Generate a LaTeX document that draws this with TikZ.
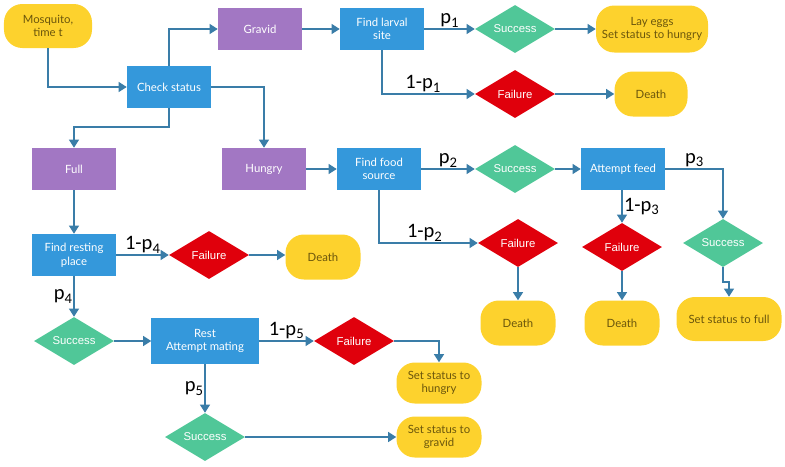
\documentclass[tikz,border=0pt]{standalone}
\usepackage{fontspec}
\setmainfont{Lato}
\newfontfamily\diafont{Liberation Sans}
\newfontfamily\labfont{Carlito}
\usepackage{tikz}
\usetikzlibrary{arrows.meta,shapes.geometric,positioning}

\definecolor{boxblue}{HTML}{3498DB}
\definecolor{statepurple}{HTML}{A277C3}
\definecolor{termyellow}{HTML}{FDD22D}
\definecolor{termtext}{HTML}{6B560C}
\definecolor{okgreen}{HTML}{50C798}
\definecolor{badred}{HTML}{E0000C}
\definecolor{linkblue}{HTML}{3A7DA8}

\newcommand{\psub}[1]{p\raisebox{-0.35ex}{\fontsize{12.5}{13}\selectfont#1}}

\begin{document}
\begin{tikzpicture}[
    x=0.03cm, y=-0.03cm,
    >={Triangle[length=7pt,width=8.5pt]},
    flow/.style={->, draw=linkblue, line width=1.4pt},
    stepbox/.style={
        rectangle,
        fill=boxblue,
        text=white,
        minimum width=2.52cm,
        minimum height=1.26cm,
        align=center,
        inner sep=2pt,
        font=\fontsize{9.7}{11.7}\selectfont
    },
    state/.style={stepbox, fill=statepurple},
    terminal/.style={
        rectangle,
        rounded corners=0.55cm,
        fill=termyellow,
        text=termtext,
        minimum width=2.25cm,
        minimum height=1.35cm,
        align=center,
        inner sep=2pt,
        font=\fontsize{9.7}{11.7}\selectfont
    },
    success/.style={
        diamond,
        aspect=1.67,
        fill=okgreen,
        text=white,
        minimum width=2.4cm,
        minimum height=1.44cm,
        inner sep=0pt,
        font=\diafont\fontsize{9.7}{11}\selectfont
    },
    failure/.style={success, fill=badred},
    prob/.style={font=\labfont\fontsize{17.5}{19}\selectfont, inner sep=1pt}
]
\useasboundingbox (0,0) rectangle (785,466);

% ROW 1
\node[terminal, minimum width=2.64cm, minimum height=1.32cm] (mosq) at (48,26) {Mosquito,\\time t};
\node[stepbox] (check) at (169,87) {Check status};
\node[state] (gravid) at (260,29) {Gravid};
\node[stepbox] (larval) at (382,29) {Find larval\\site};
\node[success] (succ1) at (515,29) {Success};
\node[terminal, minimum width=3.36cm, minimum height=1.41cm] (eggs) at (652,29) {Lay eggs\\Set status to hungry};
\node[failure] (fail1) at (515,94) {Failure};
\node[terminal, minimum width=2.19cm] (death1) at (651,94) {Death};

% ROW 2
\node[state] (full) at (74,169) {Full};
\node[state] (hungry) at (264,169) {Hungry};
\node[stepbox] (food) at (379,169) {Find food\\source};
\node[success] (succ2) at (515,169) {Success};
\node[stepbox] (feed) at (623,169) {Attempt feed};

% ROW 3
\node[failure] (fail2) at (518,243) {Failure};
\node[failure] (fail3) at (622,247) {Failure};
\node[success] (succ3) at (723,243) {Success};
\node[terminal] (death2) at (518,323) {Death};
\node[terminal] (death3) at (622,323) {Death};
\node[terminal, minimum width=3.15cm, minimum height=1.32cm] (setfull) at (729,319) {Set status to full};

% ROW 4
\node[stepbox] (rest) at (74,255) {Find resting\\place};
\node[failure] (fail4) at (209,255) {Failure};
\node[terminal] (death4) at (323,257) {Death};

% ROW 5
\node[success] (succ4) at (74,341) {Success};
\node[stepbox, minimum width=3.21cm, minimum height=1.38cm] (mating) at (205,341) {Rest\\Attempt mating};
\node[failure] (fail5) at (354,341) {Failure};
\node[terminal, minimum width=2.55cm, minimum height=1.23cm] (sethungry) at (439,383) {Set status to\\hungry};

% ROW 6
\node[success] (succ5) at (205,437) {Success};
\node[terminal, minimum width=2.55cm, minimum height=1.23cm] (setgravid) at (439,437) {Set status to\\gravid};

% --- ARROWS WITH PROBABILITIES ---
% From mosquito and check status
\draw[flow] (mosq.south) |- (check.west);
\draw[flow] (check.north) |- (gravid.west);
\draw[flow] (check.south) -- ++(0,19) -| (full.north);
\draw[flow] (check.east) -| (hungry.north);

% Gravid branch
\draw[flow] (gravid) -- (larval);
\draw[flow] (larval.east) -- node[prob, above] (lp1) {\psub{1}} (succ1.west);
\draw[flow] (larval.south) |- node[prob, above, pos=0.72] (lq1) {1-\psub{1}} (fail1.west);
\draw[flow] (succ1) -- (eggs);
\draw[flow] (fail1) -- (death1);

% Hungry branch
\draw[flow] (hungry) -- (food);
\draw[flow] (food.east) -- node[prob, above] (lp2) {\psub{2}} (succ2.west);
\draw[flow] (food.south) |- node[prob, above, pos=0.73] (lq2) {1-\psub{2}} (fail2.west);
\draw[flow] (succ2) -- (feed);
\draw[flow] (fail2) -- (death2);
\draw[flow] (feed.east) -| node[prob, above, pos=0.25] (lp3) {\psub{3}} (succ3.north);
\draw[flow] (feed.south -| fail3.north) -- node[prob, right] (lq3) {1-\psub{3}} (fail3.north);
\draw[flow] (fail3) -- (death3);
\draw[flow] (succ3.south) -- ++(0,15) -| (setfull.north);

% Full branch
\draw[flow] (full) -- (rest);
\draw[flow] (rest.east) -- node[prob, above] (lq4) {1-\psub{4}} (fail4.west);
\draw[flow] (fail4) -- (death4.west |- fail4);
\draw[flow] (rest.south) -- node[prob, left] (lp4) {\psub{4}} (succ4.north);
\draw[flow] (succ4) -- (mating);
\draw[flow] (mating.east) -- node[prob, above] (lq5) {1-\psub{5}} (fail5.west);
\draw[flow] (fail5.east) -| (sethungry.north);
\draw[flow] (mating.south) -- node[prob, left] (lp5) {\psub{5}} (succ5.north);
\draw[flow] (succ5) -- (setgravid);

\end{tikzpicture}
\end{document}
